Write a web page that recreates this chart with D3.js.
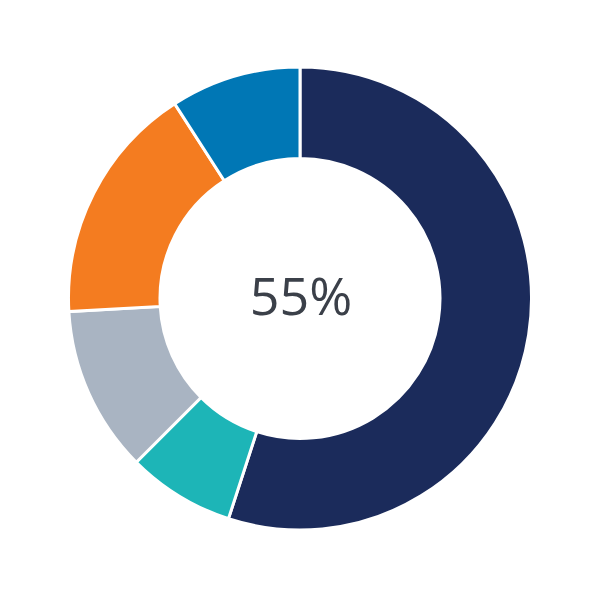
<!DOCTYPE html>
<html><head><meta charset="utf-8">
<script src="https://cdn.jsdelivr.net/npm/d3@7"></script>
<style>body{margin:0;background:#fff;}</style>
</head><body>
<svg id="chart" width="600" height="599"></svg>
<script>
const categories = ["A","B","C","D","E"];
const values = [55, 7.5, 11.6, 16.8, 9.1];
const colors = ["#1b2b5b","#1db5b7","#a9b4c2","#f47c20","#0077b5"];
const centerLabel = "55%";

const svg = d3.select("#chart");
const cx = 300, cy = 298.5, outerR = 231.5, innerR = 140;
const g = svg.append("g").attr("transform", `translate(${cx},${cy})`);
const pie = d3.pie().sort(null).value(d => d.v);
const arc = d3.arc().innerRadius(innerR).outerRadius(outerR);
const data = categories.map((c,i)=>({c, v: values[i], col: colors[i]}));
g.selectAll("path").data(pie(data)).join("path")
  .attr("d", arc)
  .attr("fill", d => d.data.col)
  .attr("stroke", "#fff")
  .attr("stroke-width", 3);
g.append("text")
  .attr("text-anchor","middle")
  .attr("x", 1)
  .attr("y", 16)
  .attr("font-family","Open Sans")
  .attr("font-weight", 400)
  .attr("font-size", 52)
  .attr("fill","#3b4049")
  .text(centerLabel);
</script>
</body></html>
